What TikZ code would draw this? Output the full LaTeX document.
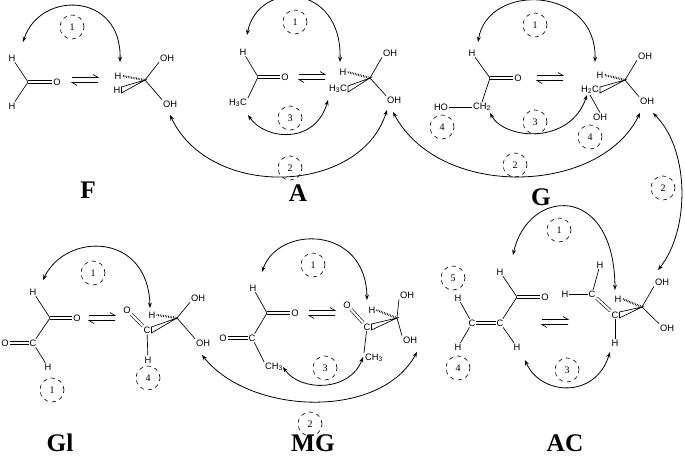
\documentclass[tikz,border=0pt]{standalone}
\usepackage{fontspec}
\setmainfont{Liberation Serif}
\newfontfamily\atomfont{Liberation Sans}
\usetikzlibrary{arrows.meta,calc}
\newcommand{\eqarr}[2]{\draw[bond] (#1-13,#2-2.5)--(#1+13,#2-2.5)--++(-5,-3); \draw[bond] (#1+13,#2+2.5)--(#1-13,#2+2.5)--++(5,3);}
\begin{document}
\begin{tikzpicture}[x=0.75pt,y=-0.75pt,
  atm/.style={inner sep=0.6pt,font=\atomfont\fontsize{7}{8}\selectfont},
  bond/.style={line width=0.5pt},
  dbl/.style={double,double distance=1.6pt,line width=0.45pt},
  hash/.style={line width=1.6pt,dash pattern=on 0.45pt off 0.8pt},
  circ/.style={draw,dashed,circle,minimum size=18pt,inner sep=0pt,line width=0.45pt,font=\fontsize{7.5}{8}\selectfont},
  arr/.style={line width=0.6pt,{Stealth[length=4pt,width=3pt]}-{Stealth[length=4pt,width=3pt]}},
  big/.style={font=\fontsize{19}{20}\selectfont\bfseries}]
\useasboundingbox (0,0) rectangle (685,459);
% ---------- F ----------
\node[atm] (fH1) at (12,58) {H}; \node[atm] (fH2) at (12,106) {H}; \node[atm] (fO) at (57,82) {O};
\coordinate (fC) at (28,82);
\draw[bond] (fH1)--(fC)--(fH2); \draw[dbl] (fC)--(fO);
\eqarr{85}{80}
\coordinate (fc) at (145,80);
\node[atm] (fHh) at (118,76) {H}; \node[atm] (fHw) at (117,90) {H};
\node[atm] (fOH1) at (167,58) {OH}; \node[atm] (fOH2) at (170,104) {OH};
\draw[hash] (fc)--(fHh.east); \draw[bond] (fc)--($(fHw.east)+(0,-3)$)--($(fHw.east)+(0,3)$)--cycle;
\draw[bond] (fc)--(fOH1.south west); \draw[bond] (fc)--(fOH2.north west);
% ---------- A ----------
\node[atm] (aH) at (243,52) {H}; \node[atm] (aO) at (285,77) {O}; \node[atm] (aMe) at (238,103) {H\textsubscript{3}C};
\coordinate (aC) at (258,77);
\draw[bond] (aH)--(aC)--(aMe.north east); \draw[dbl] (aC)--(aO);
\eqarr{312}{77}
\coordinate (ac) at (370,78);
\node[atm] (aHh) at (343,72) {H}; \node[atm] (aMew) at (338,89) {H\textsubscript{3}C};
\node[atm] (aOH1) at (390,53) {OH}; \node[atm] (aOH2) at (394,100) {OH};
\draw[hash] (ac)--(aHh.east); \draw[bond] (ac)--($(aMew.east)+(0,-3)$)--($(aMew.east)+(0,3)$)--cycle;
\draw[bond] (ac)--(aOH1.south west); \draw[bond] (ac)--(aOH2.north west);
% ---------- G ----------
\node[atm] (gH) at (472,53) {H}; \node[atm] (gO) at (518,78) {O};
\node[atm] (gCH2) at (482,107) {CH\textsubscript{2}}; \node[atm] (gHO) at (441,107) {HO};
\coordinate (gC) at (490,78);
\draw[bond] (gH)--(gC)--(gCH2.north); \draw[dbl] (gC)--(gO); \draw[bond] (gHO)--(gCH2);
\eqarr{550}{78}
\coordinate (gc) at (625,80);
\node[atm] (gHh) at (600,75) {H}; \node[atm] (gH2C) at (590,90) {H\textsubscript{2}C};
\node[atm] (gOHv) at (600,117) {OH};
\node[atm] (gOH1) at (645,56) {OH}; \node[atm] (gOH2) at (647,101) {OH};
\draw[hash] (gc)--(gHh.east); \draw[bond] (gc)--($(gH2C.east)+(0,-3)$)--($(gH2C.east)+(0,3)$)--cycle;
\draw[bond] (gH2C.south)--(gOHv.north);
\draw[bond] (gc)--(gOH1.south west); \draw[bond] (gc)--(gOH2.north west);
% ---------- Gl ----------
\node[atm] (lH1) at (33,292) {H}; \node[atm] (lO1) at (77,318) {O}; \node[atm] (lC2) at (33,343) {C};
\node[atm] (lO2) at (5,343) {O}; \node[atm] (lH2) at (48,367) {H};
\coordinate (lC) at (50,318);
\draw[bond] (lH1)--(lC)--(lC2)--(lH2); \draw[dbl] (lC)--(lO1); \draw[dbl] (lC2)--(lO2);
\eqarr{102}{318}
\coordinate (lc) at (177,318);
\node[atm] (lOw) at (127,310) {O}; \node[atm] (lCw) at (147,330) {C}; \node[atm] (lHh) at (152,315) {H};
\node[atm] (lOH1) at (198,298) {OH}; \node[atm] (lOH2) at (203,343) {OH}; \node[atm] (lHb) at (148,360) {H};
\draw[dbl] (lOw)--(lCw); \draw[bond] (lCw)--(lHb);
\draw[hash] (lc)--(lHh.east); \draw[bond] (lc)--($(lCw.east)+(0,-3)$)--($(lCw.east)+(0,3)$)--cycle;
\draw[bond] (lc)--(lOH1.south west); \draw[bond] (lc)--(lOH2.north west);
% ---------- MG ----------
\node[atm] (mH) at (253,288) {H}; \node[atm] (mO1) at (295,313) {O}; \node[atm] (mC2) at (252,338) {C};
\node[atm] (mO2) at (223,338) {O}; \node[atm] (mMe) at (274,367) {CH\textsubscript{3}};
\coordinate (mC) at (267,313);
\draw[bond] (mH)--(mC)--(mC2)--(mMe.north west); \draw[dbl] (mC)--(mO1); \draw[dbl] (mC2)--(mO2);
\eqarr{322}{313}
\coordinate (mc) at (397,318);
\node[atm] (mOw) at (347,305) {O}; \node[atm] (mCw) at (367,327) {C}; \node[atm] (mHh) at (372,310) {H};
\node[atm] (mOH1) at (407,295) {OH}; \node[atm] (mOH2) at (410,340) {OH}; \node[atm] (mMeb) at (374,358) {CH\textsubscript{3}};
\draw[dbl] (mOw)--(mCw); \draw[bond] (mCw)--(mMeb.north west);
\draw[hash] (mc)--(mHh.east); \draw[bond] (mc)--($(mCw.east)+(0,-3)$)--($(mCw.east)+(0,3)$)--cycle;
\draw[bond] (mc)--(mOH1.south west); \draw[bond] (mc)--(mOH2.north west);
% ---------- AC ----------
\node[atm] (cH5) at (458,298) {H}; \node[atm] (cCa) at (472,323) {C}; \node[atm] (cCb) at (500,323) {C};
\node[atm] (cH4) at (458,347) {H}; \node[atm] (cHb) at (517,347) {H}; \node[atm] (cHc) at (500,272) {H};
\node[atm] (cO) at (545,297) {O}; \coordinate (cCc) at (517,297);
\draw[bond] (cH5)--(cCa)--(cH4); \draw[dbl] (cCa)--(cCb); \draw[bond] (cCb)--(cHb);
\draw[bond] (cCb)--(cCc)--(cHc); \draw[dbl] (cCc)--(cO);
\eqarr{555}{322}
\coordinate (cc) at (642,307);
\node[atm] (cHt) at (600,265) {H}; \node[atm] (cCx) at (592,294) {C}; \node[atm] (cHl) at (565,294) {H};
\node[atm] (cCy) at (615,315) {C}; \node[atm] (cHh) at (618,299) {H};
\node[atm] (cOH1) at (662,282) {OH}; \node[atm] (cOH2) at (667,328) {OH}; \node[atm] (cHbot) at (615,343) {H};
\draw[bond] (cHt)--(cCx); \draw[bond] (cHl)--(cCx); \draw[dbl] (cCx)--(cCy); \draw[bond] (cCy)--(cHbot);
\draw[hash] (cc)--(cHh.east); \draw[bond] (cc)--($(cCy.east)+(0,-3)$)--($(cCy.east)+(0,3)$)--cycle;
\draw[bond] (cc)--(cOH1.south west); \draw[bond] (cc)--(cOH2.north west);
% ---------- curved arrows ----------
\draw[arr] (23,42) .. controls (40,-10) and (122,-8) .. (120,62);
\draw[arr] (247,35) .. controls (258,-20) and (342,-18) .. (340,62);
\draw[arr] (478,42) .. controls (488,-18) and (597,-14) .. (595,62);
\draw[arr] (513,255) .. controls (528,188) and (614,182) .. (615,290);
\draw[arr] (43,280) .. controls (66,232) and (148,232) .. (150,308);
\draw[arr] (262,272) .. controls (278,225) and (366,225) .. (367,300);
\draw[arr] (248,115) .. controls (265,140) and (315,145) .. (328,100);
\draw[arr] (490,113) .. controls (505,140) and (570,145) .. (587,95);
\draw[arr] (283,367) .. controls (300,392) and (350,392) .. (363,357);
\draw[arr] (525,360) .. controls (540,395) and (595,400) .. (610,352);
\draw[arr] (170,115) .. controls (210,200) and (360,195) .. (387,110);
\draw[arr] (393,112) .. controls (440,200) and (600,195) .. (640,113);
\draw[arr] (202,355) .. controls (250,415) and (380,420) .. (417,352);
\draw[arr] (653,113) .. controls (690,150) and (690,230) .. (658,270);
% ---------- circles ----------
\foreach \x/\y/\n in {72/27/1,295/22/1,290/118/3,290/168/2,535/25/1,535/122/3,442/127/4,590/137/4,515/165/2,663/188/2,93/273/1,52/390/1,148/378/4,313/265/1,325/368/3,310/424/2,559/230/1,453/278/5,458/368/4,567/370/3}
  \node[circ] at (\x,\y) {\n};
% ---------- labels ----------
\node[big] at (88,190) {F}; \node[big] at (298,193) {A}; \node[big] at (541,197) {G};
\node[big] at (60,443) {Gl}; \node[big] at (313,443) {MG}; \node[big] at (565,443) {AC};
\end{tikzpicture}
\end{document}
